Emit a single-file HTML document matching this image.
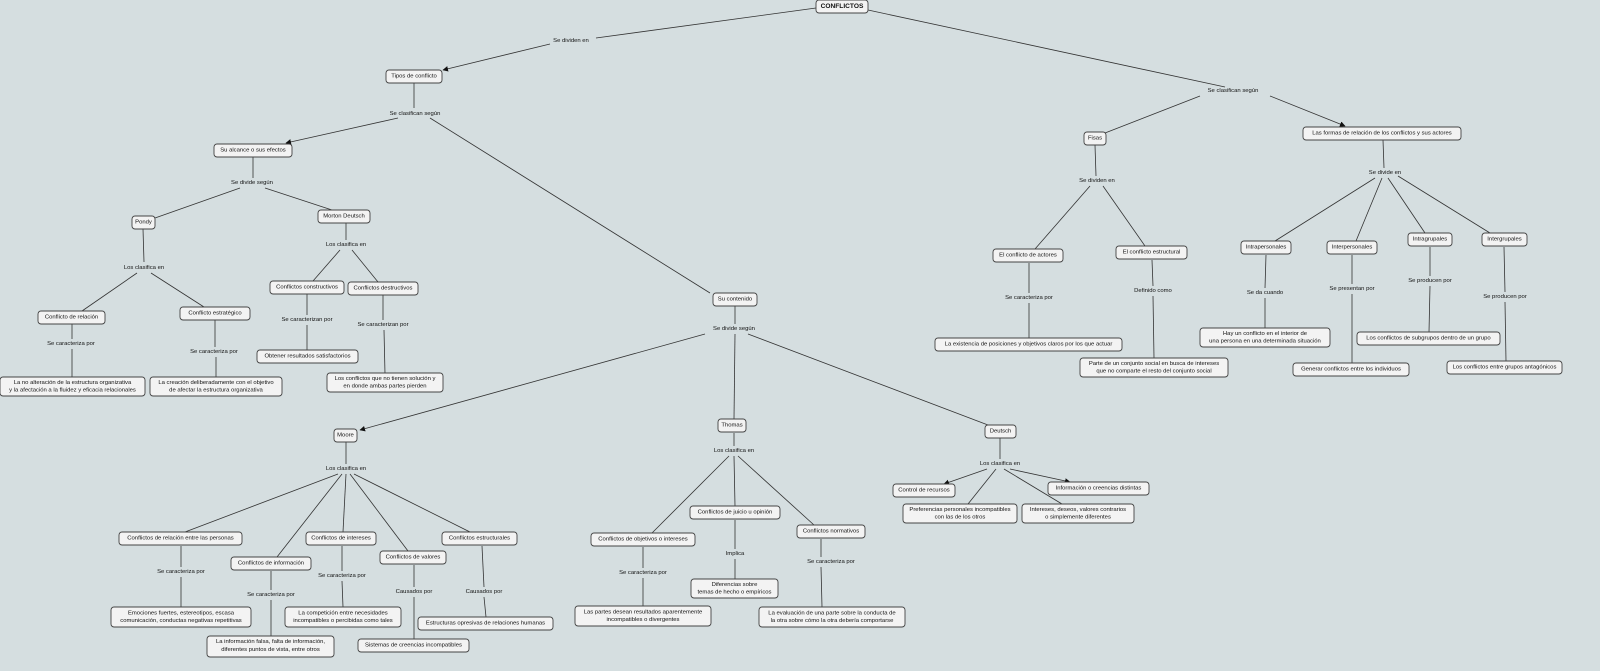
<!DOCTYPE html>
<html><head><meta charset="utf-8"><style>
html,body{margin:0;padding:0;background:#d5dee0;}
svg{display:block}
text{font-family:"Liberation Sans",sans-serif;font-size:5.9px;fill:#111;text-anchor:middle;dominant-baseline:central}
rect{fill:#f3f3f3;stroke:#444;stroke-width:0.9}
line{stroke:#333;stroke-width:0.8}
</style></head><body>
<svg width="1600" height="671" viewBox="0 0 1600 671" xmlns="http://www.w3.org/2000/svg">
<defs><marker id="a" viewBox="0 0 10 10" refX="9" refY="5" markerWidth="7" markerHeight="7" orient="auto"><path d="M0,0L10,5L0,10z" fill="#111"/></marker></defs>
<rect width="1600" height="671" style="fill:#d5dee0;stroke:none"/>
<g>
<line x1="816" y1="8" x2="596" y2="38"/>
<line x1="550" y1="44" x2="443" y2="70" marker-end="url(#a)"/>
<line x1="868" y1="10" x2="1225" y2="87"/>
<line x1="1270" y1="96" x2="1345" y2="126" marker-end="url(#a)"/>
<line x1="1200" y1="96" x2="1105" y2="133"/>
<line x1="414" y1="83" x2="414" y2="108"/>
<line x1="398" y1="118" x2="286" y2="143" marker-end="url(#a)"/>
<line x1="430" y1="118" x2="710" y2="293"/>
<line x1="253" y1="157" x2="253" y2="178"/>
<line x1="240" y1="188" x2="155" y2="218"/>
<line x1="265" y1="188" x2="332" y2="210"/>
<line x1="143" y1="229" x2="144" y2="262"/>
<line x1="137" y1="273" x2="82" y2="311"/>
<line x1="151" y1="273" x2="204" y2="307"/>
<line x1="72" y1="324" x2="72" y2="339"/>
<line x1="72" y1="349" x2="72" y2="377"/>
<line x1="215" y1="320" x2="215" y2="347"/>
<line x1="216" y1="357" x2="216" y2="377"/>
<line x1="346" y1="223" x2="346" y2="240"/>
<line x1="340" y1="250" x2="313" y2="281"/>
<line x1="352" y1="250" x2="378" y2="282"/>
<line x1="307" y1="294" x2="307" y2="315"/>
<line x1="307" y1="325" x2="307" y2="350"/>
<line x1="383" y1="295" x2="383" y2="320"/>
<line x1="384" y1="330" x2="385" y2="374"/>
<line x1="735" y1="306" x2="735" y2="324"/>
<line x1="705" y1="334" x2="360" y2="430" marker-end="url(#a)"/>
<line x1="735" y1="334" x2="734" y2="419"/>
<line x1="748" y1="334" x2="988" y2="425"/>
<line x1="346" y1="442" x2="346" y2="464"/>
<line x1="338" y1="474" x2="185" y2="532"/>
<line x1="342" y1="474" x2="277" y2="557"/>
<line x1="346" y1="474" x2="343" y2="532"/>
<line x1="350" y1="474" x2="408" y2="551"/>
<line x1="354" y1="474" x2="470" y2="532"/>
<line x1="181" y1="546" x2="181" y2="567"/>
<line x1="181" y1="577" x2="181" y2="607"/>
<line x1="271" y1="571" x2="271" y2="590"/>
<line x1="271" y1="600" x2="271" y2="636"/>
<line x1="342" y1="546" x2="342" y2="571"/>
<line x1="342" y1="581" x2="343" y2="607"/>
<line x1="414" y1="565" x2="414" y2="587"/>
<line x1="414" y1="597" x2="414" y2="639"/>
<line x1="482" y1="546" x2="484" y2="587"/>
<line x1="484" y1="597" x2="486" y2="617"/>
<line x1="734" y1="433" x2="734" y2="446"/>
<line x1="729" y1="456" x2="652" y2="533"/>
<line x1="734" y1="456" x2="735" y2="506"/>
<line x1="738" y1="456" x2="814" y2="525"/>
<line x1="643" y1="547" x2="643" y2="568"/>
<line x1="643" y1="578" x2="643" y2="606"/>
<line x1="735" y1="520" x2="735" y2="549"/>
<line x1="735" y1="559" x2="735" y2="579"/>
<line x1="821" y1="539" x2="821" y2="557"/>
<line x1="821" y1="567" x2="822" y2="607"/>
<line x1="1000" y1="438" x2="1000" y2="459"/>
<line x1="987" y1="469" x2="944" y2="484" marker-end="url(#a)"/>
<line x1="1010" y1="469" x2="1070" y2="482" marker-end="url(#a)"/>
<line x1="996" y1="469" x2="968" y2="504"/>
<line x1="1004" y1="469" x2="1062" y2="504"/>
<line x1="1095" y1="145" x2="1096" y2="176"/>
<line x1="1090" y1="186" x2="1035" y2="249"/>
<line x1="1103" y1="186" x2="1145" y2="246"/>
<line x1="1029" y1="263" x2="1029" y2="293"/>
<line x1="1029" y1="303" x2="1029" y2="338"/>
<line x1="1152" y1="260" x2="1153" y2="286"/>
<line x1="1153" y1="296" x2="1154" y2="358"/>
<line x1="1383" y1="140" x2="1384" y2="168"/>
<line x1="1375" y1="178" x2="1275" y2="241"/>
<line x1="1382" y1="178" x2="1356" y2="241"/>
<line x1="1388" y1="178" x2="1425" y2="233"/>
<line x1="1398" y1="176" x2="1490" y2="233"/>
<line x1="1266" y1="255" x2="1265" y2="288"/>
<line x1="1265" y1="298" x2="1265" y2="328"/>
<line x1="1352" y1="255" x2="1352" y2="284"/>
<line x1="1352" y1="294" x2="1352" y2="363"/>
<line x1="1430" y1="247" x2="1430" y2="276"/>
<line x1="1430" y1="286" x2="1429" y2="332"/>
<line x1="1504" y1="247" x2="1505" y2="292"/>
<line x1="1505" y1="302" x2="1506" y2="361"/>
</g>
<g>
<text x="571" y="41">Se dividen en</text>
<text x="1233" y="91">Se clasifican según</text>
<text x="415" y="114">Se clasifican según</text>
<text x="252" y="183">Se divide según</text>
<text x="144" y="268">Los clasifica en</text>
<text x="346" y="245">Los clasifica en</text>
<text x="71" y="344">Se caracteriza por</text>
<text x="214" y="352">Se caracteriza por</text>
<text x="307" y="320">Se caracterizan por</text>
<text x="383" y="325">Se caracterizan por</text>
<text x="734" y="329">Se divide según</text>
<text x="1097" y="181">Se dividen en</text>
<text x="1385" y="173">Se divide en</text>
<text x="1029" y="298">Se caracteriza por</text>
<text x="1153" y="291">Definido como</text>
<text x="1265" y="293">Se da cuando</text>
<text x="1352" y="289">Se presentan por</text>
<text x="1430" y="281">Se producen por</text>
<text x="1505" y="297">Se producen por</text>
<text x="346" y="469">Los clasifica en</text>
<text x="734" y="451">Los clasifica en</text>
<text x="1000" y="464">Los clasifica en</text>
<text x="181" y="572">Se caracteriza por</text>
<text x="271" y="595">Se caracteriza por</text>
<text x="342" y="576">Se caracteriza por</text>
<text x="414" y="592">Causados por</text>
<text x="484" y="592">Causados por</text>
<text x="643" y="573">Se caracteriza por</text>
<text x="735" y="554">Implica</text>
<text x="831" y="562">Se caracteriza por</text>
</g>
<g>
<rect x="816" y="0" width="52" height="13" rx="3"/><text x="842" y="6.5" style="font-weight:bold;font-size:6.6px">CONFLICTOS</text>
<rect x="386" y="70" width="56" height="13" rx="3"/><text x="414" y="76.5">Tipos de conflicto</text>
<rect x="1084" y="132" width="22" height="13" rx="3"/><text x="1095" y="138.5">Fisas</text>
<rect x="1303" y="127" width="158" height="13" rx="3"/><text x="1382" y="133.5">Las formas de relación de los conflictos y sus actores</text>
<rect x="214" y="144" width="78" height="13" rx="3"/><text x="253" y="150.5">Su alcance o sus efectos</text>
<rect x="132" y="216" width="23" height="13" rx="3"/><text x="143.5" y="222.5">Pondy</text>
<rect x="318" y="210" width="52" height="13" rx="3"/><text x="344" y="216.5">Morton Deutsch</text>
<rect x="270" y="281" width="74" height="13" rx="3"/><text x="307" y="287.5">Conflictos constructivos</text>
<rect x="348" y="282" width="70" height="13" rx="3"/><text x="383" y="288.5">Conflictos destructivos</text>
<rect x="38" y="311" width="67" height="13" rx="3"/><text x="71.5" y="317.5">Conflicto de relación</text>
<rect x="180" y="307" width="70" height="13" rx="3"/><text x="215" y="313.5">Conflicto estratégico</text>
<rect x="257" y="350" width="101" height="13" rx="3"/><text x="307.5" y="356.5">Obtener resultados satisfactorios</text>
<rect x="327" y="373" width="116" height="19" rx="3"/><text x="385" y="379">Los conflictos que no tienen solución y</text><text x="385" y="386.5">en donde ambas partes pierden</text>
<rect x="0" y="377" width="145" height="19" rx="3"/><text x="72.5" y="383">La no alteración de la estructura organizativa</text><text x="72.5" y="390.5">y la afectación a la fluidez y eficacia relacionales</text>
<rect x="150" y="377" width="132" height="19" rx="3"/><text x="216" y="383">La creación deliberadamente con el objetivo</text><text x="216" y="390.5">de afectar la estructura organizativa</text>
<rect x="713" y="293" width="44" height="13" rx="3"/><text x="735" y="299.5">Su contenido</text>
<rect x="993" y="249" width="70" height="13" rx="3"/><text x="1028" y="255.5">El conflicto de actores</text>
<rect x="1116" y="246" width="71" height="13" rx="3"/><text x="1151.5" y="252.5">El conflicto estructural</text>
<rect x="1241" y="241" width="50" height="13" rx="3"/><text x="1266" y="247.5">Intrapersonales</text>
<rect x="1327" y="241" width="50" height="13" rx="3"/><text x="1352" y="247.5">Interpersonales</text>
<rect x="1408" y="233" width="44" height="13" rx="3"/><text x="1430" y="239.5">Intragrupales</text>
<rect x="1482" y="233" width="45" height="13" rx="3"/><text x="1504.5" y="239.5">Intergrupales</text>
<rect x="935" y="338" width="187" height="13" rx="3"/><text x="1028.5" y="344.5">La existencia de posiciones y objetivos claros por los que actuar</text>
<rect x="1080" y="358" width="148" height="19" rx="3"/><text x="1154" y="364">Parte de un conjunto social en busca de intereses</text><text x="1154" y="371.5">que no comparte el resto del conjunto social</text>
<rect x="1200" y="328" width="130" height="19" rx="3"/><text x="1265" y="334">Hay un conflicto en el interior de</text><text x="1265" y="341.5">una persona en una determinada situación</text>
<rect x="1357" y="332" width="143" height="13" rx="3"/><text x="1428.5" y="338.5">Los conflictos de subgrupos dentro de un grupo</text>
<rect x="1293" y="363" width="116" height="13" rx="3"/><text x="1351" y="369.5">Generar conflictos entre los individuos</text>
<rect x="1447" y="361" width="115" height="13" rx="3"/><text x="1504.5" y="367.5">Los conflictos entre grupos antagónicos</text>
<rect x="334" y="429" width="23" height="13" rx="3"/><text x="345.5" y="435.5">Moore</text>
<rect x="718" y="419" width="28" height="13" rx="3"/><text x="732" y="425.5">Thomas</text>
<rect x="985" y="425" width="31" height="13" rx="3"/><text x="1000.5" y="431.5">Deutsch</text>
<rect x="893" y="484" width="62" height="13" rx="3"/><text x="924" y="490.5">Control de recursos</text>
<rect x="1048" y="482" width="101" height="13" rx="3"/><text x="1098.5" y="488.5">Información o creencias distintas</text>
<rect x="903" y="504" width="114" height="19" rx="3"/><text x="960" y="510">Preferencias personales incompatibles</text><text x="960" y="517.5">con las de los otros</text>
<rect x="1022" y="504" width="112" height="19" rx="3"/><text x="1078" y="510">Intereses, deseos, valores contrarios</text><text x="1078" y="517.5">o simplemente diferentes</text>
<rect x="119" y="532" width="123" height="13" rx="3"/><text x="180.5" y="538.5">Conflictos de relación entre las personas</text>
<rect x="306" y="532" width="70" height="13" rx="3"/><text x="341" y="538.5">Conflictos de intereses</text>
<rect x="442" y="532" width="75" height="13" rx="3"/><text x="479.5" y="538.5">Conflictos estructurales</text>
<rect x="380" y="551" width="66" height="13" rx="3"/><text x="413" y="557.5">Conflictos de valores</text>
<rect x="231" y="557" width="80" height="13" rx="3"/><text x="271" y="563.5">Conflictos de información</text>
<rect x="591" y="533" width="104" height="13" rx="3"/><text x="643" y="539.5">Conflictos de objetivos o intereses</text>
<rect x="690" y="506" width="90" height="13" rx="3"/><text x="735" y="512.5">Conflictos de juicio u opinión</text>
<rect x="797" y="525" width="68" height="13" rx="3"/><text x="831" y="531.5">Conflictos normativos</text>
<rect x="111" y="607" width="140" height="20" rx="3"/><text x="181" y="613.5">Emociones fuertes, estereotipos, escasa</text><text x="181" y="621">comunicación, conductas negativas repetitivas</text>
<rect x="285" y="607" width="116" height="20" rx="3"/><text x="343" y="613.5">La competición entre necesidades</text><text x="343" y="621">incompatibles o percibidas como tales</text>
<rect x="207" y="636" width="127" height="21" rx="3"/><text x="270.5" y="642">La información falsa, falta de información,</text><text x="270.5" y="650">diferentes puntos de vista, entre otros</text>
<rect x="358" y="639" width="111" height="13" rx="3"/><text x="413.5" y="645.5">Sistemas de creencias incompatibles</text>
<rect x="418" y="617" width="135" height="13" rx="3"/><text x="485.5" y="623.5">Estructuras opresivas de relaciones humanas</text>
<rect x="575" y="606" width="136" height="20" rx="3"/><text x="643" y="612.5">Las partes desean resultados aparentemente</text><text x="643" y="620">incompatibles o divergentes</text>
<rect x="691" y="579" width="87" height="19" rx="3"/><text x="734.5" y="585">Diferencias sobre</text><text x="734.5" y="592.5">temas de hecho o empíricos</text>
<rect x="759" y="607" width="146" height="20" rx="3"/><text x="832" y="613.5">La evaluación de una parte sobre la conducta de</text><text x="832" y="621">la otra sobre cómo la otra debería comportarse</text>
</g>
</svg>
</body></html>
